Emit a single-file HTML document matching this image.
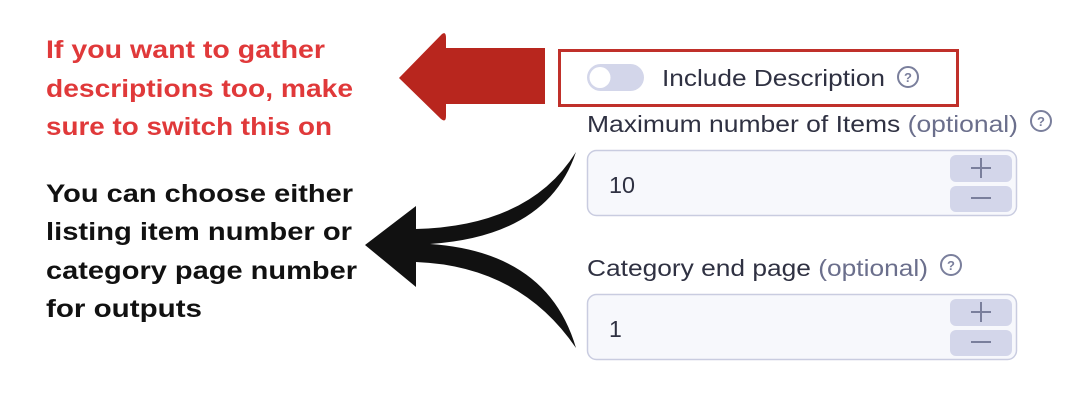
<!DOCTYPE html>
<html><head><style>
html,body{margin:0;padding:0;background:#fff;}
body{width:1088px;height:404px;overflow:hidden;}
</style></head><body>
<svg width="1088" height="404" viewBox="0 0 1088 404" xmlns="http://www.w3.org/2000/svg">
<g font-family="Liberation Sans, sans-serif" font-weight="bold" font-size="25">
<text x="46" y="58" fill="#e0393a" textLength="279" lengthAdjust="spacingAndGlyphs">If you want to gather</text>
<text x="46" y="97" fill="#e0393a" textLength="307" lengthAdjust="spacingAndGlyphs">descriptions too, make</text>
<text x="46" y="135" fill="#e0393a" textLength="286" lengthAdjust="spacingAndGlyphs">sure to switch this on</text>
<text x="46" y="202" fill="#111" textLength="307" lengthAdjust="spacingAndGlyphs">You can choose either</text>
<text x="46" y="240" fill="#111" textLength="306" lengthAdjust="spacingAndGlyphs">listing item number or</text>
<text x="46" y="279" fill="#111" textLength="311" lengthAdjust="spacingAndGlyphs">category page number</text>
<text x="46" y="317" fill="#111" textLength="156" lengthAdjust="spacingAndGlyphs">for outputs</text>
</g>
<path d="M399 78 L442 34 Q446 31 446 38 L446 48 L545 48 L545 104 L446 104 L446 116 Q446 123 441 119 Z" fill="#b8261e"/>
<path d="M365 245 L416 206 L416 229 Q530 226 576 152 Q548 236 430 244 Q548 252 576 348 Q520 266 416 262 L416 287 Z" fill="#111"/>
<rect x="559.5" y="50.5" width="398" height="55" fill="none" stroke="#c0302a" stroke-width="3"/>
<rect x="587" y="64" width="57" height="27" rx="13.5" fill="#d3d6ea"/>
<circle cx="600" cy="77.5" r="10.5" fill="#fff"/>
<rect x="587.5" y="150.5" width="429" height="65" rx="9" fill="#f7f8fc" stroke="#c9cce0" stroke-width="1.5"/>
<rect x="587.5" y="294.5" width="429" height="65" rx="9" fill="#f7f8fc" stroke="#c9cce0" stroke-width="1.5"/>
<g fill="#d3d6ea">
<rect x="950" y="155" width="62" height="27" rx="6"/><rect x="950" y="186" width="62" height="26" rx="6"/>
<rect x="950" y="299" width="62" height="27" rx="6"/><rect x="950" y="330" width="62" height="26" rx="6"/>
</g>
<g font-family="Liberation Sans, sans-serif" font-size="23" fill="#2f3142">
<text x="662" y="86" textLength="223" lengthAdjust="spacingAndGlyphs">Include Description</text>
<text x="587" y="132" textLength="431" lengthAdjust="spacingAndGlyphs">Maximum number of Items <tspan fill="#6b6f8c">(optional)</tspan></text>
<text x="587" y="276" textLength="341" lengthAdjust="spacingAndGlyphs">Category end page <tspan fill="#6b6f8c">(optional)</tspan></text>
<text x="609" y="193" textLength="26" lengthAdjust="spacingAndGlyphs">10</text>
<text x="609" y="337">1</text>
</g>
<g fill="none" stroke="#7a7f9c" stroke-width="2">
<circle cx="908" cy="77" r="10"/><circle cx="1041" cy="121" r="10"/><circle cx="951" cy="265" r="10"/>
</g>
<g font-family="Liberation Sans, sans-serif" font-size="13" font-weight="bold" fill="#7a7f9c" text-anchor="middle">
<text x="908" y="82">?</text><text x="1041" y="126">?</text><text x="951" y="270">?</text>
</g>
<g stroke="#7a7f9c" stroke-width="2">
<line x1="971" y1="168" x2="991" y2="168"/><line x1="981" y1="158" x2="981" y2="178"/>
<line x1="971" y1="198" x2="991" y2="198"/>
<line x1="971" y1="312" x2="991" y2="312"/><line x1="981" y1="302" x2="981" y2="322"/>
<line x1="971" y1="342" x2="991" y2="342"/>
</g>
</svg>
</body></html>
